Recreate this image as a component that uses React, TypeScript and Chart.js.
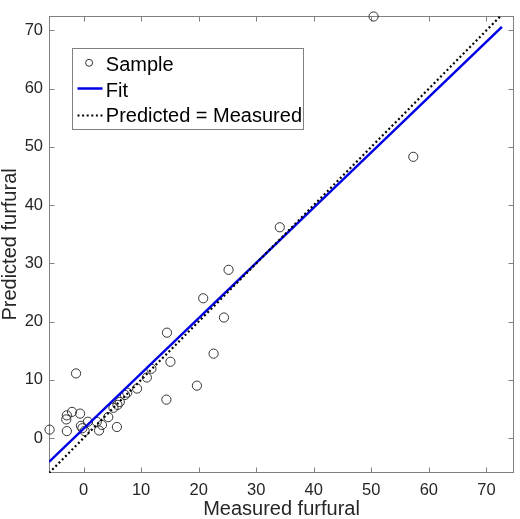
import React, { useEffect, useRef } from "react";
import { Chart, registerables } from "chart.js";

Chart.register(...registerables);

// ---- data ----
const measured = [
  -5.9, -2.9, -3.0, -2.9, -2.0, -1.3, -0.6, -0.45, -0.2, 0.2, 0.75, 2.3, 2.7, 3.2,
  4.3, 5.8, 5.2, 5.9, 6.3, 7.2, 7.6, 9.3, 11.0, 11.8, 14.4, 15.1, 14.5, 19.7, 20.8,
  22.6, 24.4, 25.2, 34.1, 50.4, 57.3,
];
const predicted = [
  1.45, 1.2, 3.2, 3.9, 4.5, 11.1, 4.2, 2.1, 1.7, 1.2, 2.8, 2.8, 1.3, 2.25,
  3.6, 1.9, 5.2, 5.7, 6.2, 7.4, 7.8, 8.5, 10.4, 11.9, 6.6, 13.1, 18.1, 9.0, 24.0,
  14.5, 20.7, 28.9, 36.2, 72.4, 48.3,
];
const fitX = [-6, 72.7];
const fitY = [-4.1, 70.6];
const idealX = [-6, 72.5];
const idealY = [-6, 72.5];
const xTicks = [0, 10, 20, 30, 40, 50, 60, 70];
const yTicks = [0, 10, 20, 30, 40, 50, 60, 70];
const seriesLabels = ["Sample", "Fit", "Predicted = Measured"];
const xTitle = "Measured furfural";
const yTitle = "Predicted furfural";

const FONT = "'Liberation Sans', Arial, Helvetica, sans-serif";
const AXIS_COLOR = "#808080";
const TEXT_COLOR = "#262626";

const boxPlugin = {
  id: "matlabBox",
  beforeDatasetsDraw(chart: any) {
    const { ctx, chartArea: a, scales } = chart;
    ctx.save();
    ctx.strokeStyle = AXIS_COLOR;
    ctx.lineWidth = 1;
    const L = Math.round(a.left) + 0.5;
    const R = Math.round(a.right) - 0.5;
    const T = Math.round(a.top) + 0.5;
    const B = Math.round(a.bottom) - 0.5;
    ctx.beginPath();
    const tl = 5;
    xTicks.forEach((v) => {
      const px = Math.round(scales.x.getPixelForValue(v)) + 0.5;
      ctx.moveTo(px, B);
      ctx.lineTo(px, B - tl);
      ctx.moveTo(px, T);
      ctx.lineTo(px, T + tl);
    });
    yTicks.forEach((v) => {
      const py = Math.round(scales.y.getPixelForValue(v)) + 0.5;
      ctx.moveTo(L, py);
      ctx.lineTo(L + tl, py);
      ctx.moveTo(R, py);
      ctx.lineTo(R - tl, py);
    });
    ctx.stroke();
    ctx.strokeRect(L, T, R - L, B - T);
    ctx.restore();
  },
};

const legendPlugin = {
  id: "insideLegend",
  afterDatasetsDraw(chart: any) {
    const { ctx, chartArea: a } = chart;
    const ds = chart.data.datasets;
    const bx = Math.round(a.left + 22.7) + 0.5;
    const by = Math.round(a.top + 32) + 0.5;
    const bw = 231;
    const bh = 81;
    ctx.save();
    ctx.fillStyle = "#ffffff";
    ctx.fillRect(bx, by, bw, bh);
    ctx.strokeStyle = AXIS_COLOR;
    ctx.lineWidth = 1;
    ctx.strokeRect(bx, by, bw, bh);

    ctx.font = `20px ${FONT}`;
    ctx.fillStyle = "#000000";
    ctx.textAlign = "left";
    ctx.textBaseline = "alphabetic";
    const baselines = [22.3, 48.3, 73.5];
    const markY = [14.3, 40, 67];
    ds.forEach((d: any, i: number) => {
      ctx.fillStyle = "#000000";
      ctx.fillText(d.label, bx + 33.3, by + baselines[i]);
      ctx.save();
      if (i === 0) {
        ctx.strokeStyle = d.borderColor;
        ctx.lineWidth = d.borderWidth;
        ctx.beginPath();
        ctx.arc(bx + 16.6, by + markY[i], 3.5, 0, Math.PI * 2);
        ctx.stroke();
      } else {
        ctx.strokeStyle = d.borderColor;
        ctx.lineWidth = d.borderWidth;
        ctx.setLineDash(d.borderDash || []);
        ctx.beginPath();
        ctx.moveTo(bx + 5, by + markY[i]);
        ctx.lineTo(bx + 30, by + markY[i]);
        ctx.stroke();
      }
      ctx.restore();
    });
    ctx.restore();
  },
};

export default function App() {
  const ref = useRef<HTMLCanvasElement | null>(null);

  useEffect(() => {
    if (!ref.current) return;
    const chart = new Chart(ref.current, {
      type: "scatter",
      data: {
        datasets: [
          {
            label: seriesLabels[0],
            data: measured.map((x, i) => ({ x, y: predicted[i] })),
            pointStyle: "circle",
            pointRadius: 4.6,
            pointHoverRadius: 4.6,
            borderColor: "#333333",
            backgroundColor: "rgba(0,0,0,0)",
            borderWidth: 1,
            showLine: false,
            clip: false,
            order: 2,
          } as any,
          {
            label: seriesLabels[1],
            data: fitX.map((x, i) => ({ x, y: fitY[i] })),
            showLine: true,
            pointRadius: 0,
            borderColor: "#0000e6",
            borderWidth: 2.5,
            order: 1,
          } as any,
          {
            label: seriesLabels[2],
            data: idealX.map((x, i) => ({ x, y: idealY[i] })),
            showLine: true,
            pointRadius: 0,
            borderColor: "#000000",
            borderWidth: 2.2,
            borderDash: [2, 2.6],
            order: 0,
          } as any,
        ],
      },
      options: {
        animation: false,
        responsive: false,
        devicePixelRatio: 1,
        layout: { padding: { top: 8, right: 6, left: 0, bottom: 0 } },
        plugins: {
          legend: { display: false },
          tooltip: { enabled: false },
        },
        scales: {
          x: {
            type: "linear",
            min: -6,
            max: 74.8,
            afterBuildTicks: (s: any) => {
              s.ticks = xTicks.map((v) => ({ value: v }));
            },
            afterFit: (s: any) => {
              s.height = 46;
            },
            grid: { display: false, drawTicks: false },
            border: { display: false },
            ticks: {
              autoSkip: false,
              maxRotation: 0,
              padding: 8,
              color: TEXT_COLOR,
              font: { family: FONT, size: 16.5 },
            },
            title: {
              display: true,
              text: xTitle,
              color: TEXT_COLOR,
              padding: 0,
              font: { family: FONT, size: 20, lineHeight: 1 },
            },
          },
          y: {
            type: "linear",
            min: -6,
            max: 72.5,
            afterBuildTicks: (s: any) => {
              s.ticks = yTicks.map((v) => ({ value: v }));
            },
            afterFit: (s: any) => {
              s.width = 49;
            },
            grid: { display: false, drawTicks: false },
            border: { display: false },
            ticks: {
              autoSkip: false,
              padding: 6,
              color: TEXT_COLOR,
              font: { family: FONT, size: 16.5 },
            },
            title: {
              display: true,
              text: yTitle,
              color: TEXT_COLOR,
              padding: 0,
              font: { family: FONT, size: 20, lineHeight: 1 },
            },
          },
        },
      },
      plugins: [boxPlugin, legendPlugin],
    });
    return () => chart.destroy();
  }, []);

  return (
    <div style={{ position: "fixed", left: 0, top: 0, width: 520, height: 519, background: "#fff" }}>
      <canvas ref={ref} width={520} height={519} style={{ width: 520, height: 519, display: "block" }} />
    </div>
  );
}
